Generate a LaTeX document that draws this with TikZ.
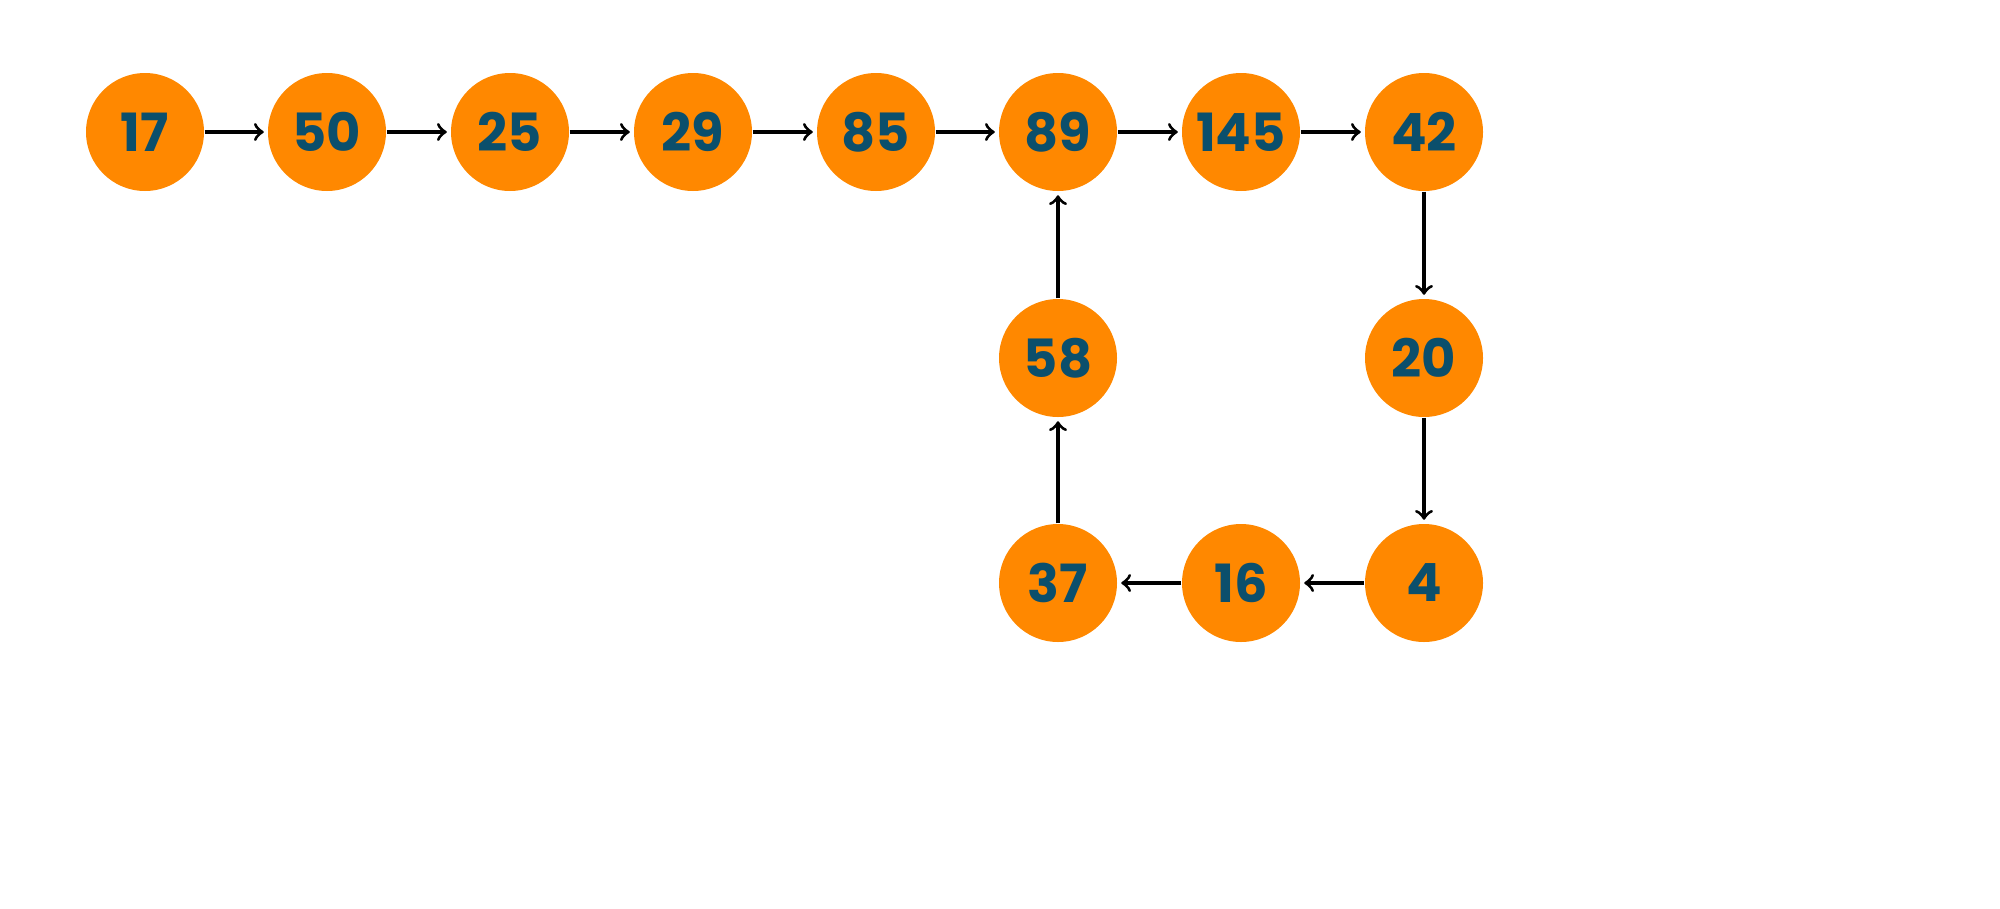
\documentclass[tikz,border=0pt]{standalone}
\usepackage{fontspec}
\setmainfont{Poppins}
\usetikzlibrary{positioning}
\definecolor{numorange}{HTML}{FF8800}
\definecolor{numtext}{HTML}{0B4F6C}
\tikzset{
  num/.style={circle,fill=numorange,minimum size=1.18cm,inner sep=0pt,text=numtext,font=\fontsize{15}{15}\selectfont\bfseries},
  link/.style={-to,line width=0.9pt,shorten >=1pt}
}
\begin{document}
\begin{tikzpicture}
\useasboundingbox(0,0)rectangle(20,9.08);
\node[num](n17)at(1.45,7.76){17};
\node[num](n50)at(3.27,7.76){50};
\node[num](n25)at(5.10,7.76){25};
\node[num](n29)at(6.93,7.76){29};
\node[num](n85)at(8.76,7.76){85};
\node[num](n89)at(10.58,7.76){89};
\node[num](n145)at(12.41,7.76){145};
\node[num](n42)at(14.24,7.76){42};
\node[num](n20)at(14.24,5.50){20};
\node[num](n4)at(14.24,3.25){4};
\node[num](n16)at(12.41,3.25){16};
\node[num](n37)at(10.58,3.25){37};
\node[num](n58)at(10.58,5.50){58};
\foreach \a/\b in {n17/n50,n50/n25,n25/n29,n29/n85,n85/n89,n89/n145,n145/n42,n42/n20,n20/n4,n4/n16,n16/n37,n37/n58,n58/n89}
  \draw[link](\a)--(\b);
\end{tikzpicture}
\end{document}
